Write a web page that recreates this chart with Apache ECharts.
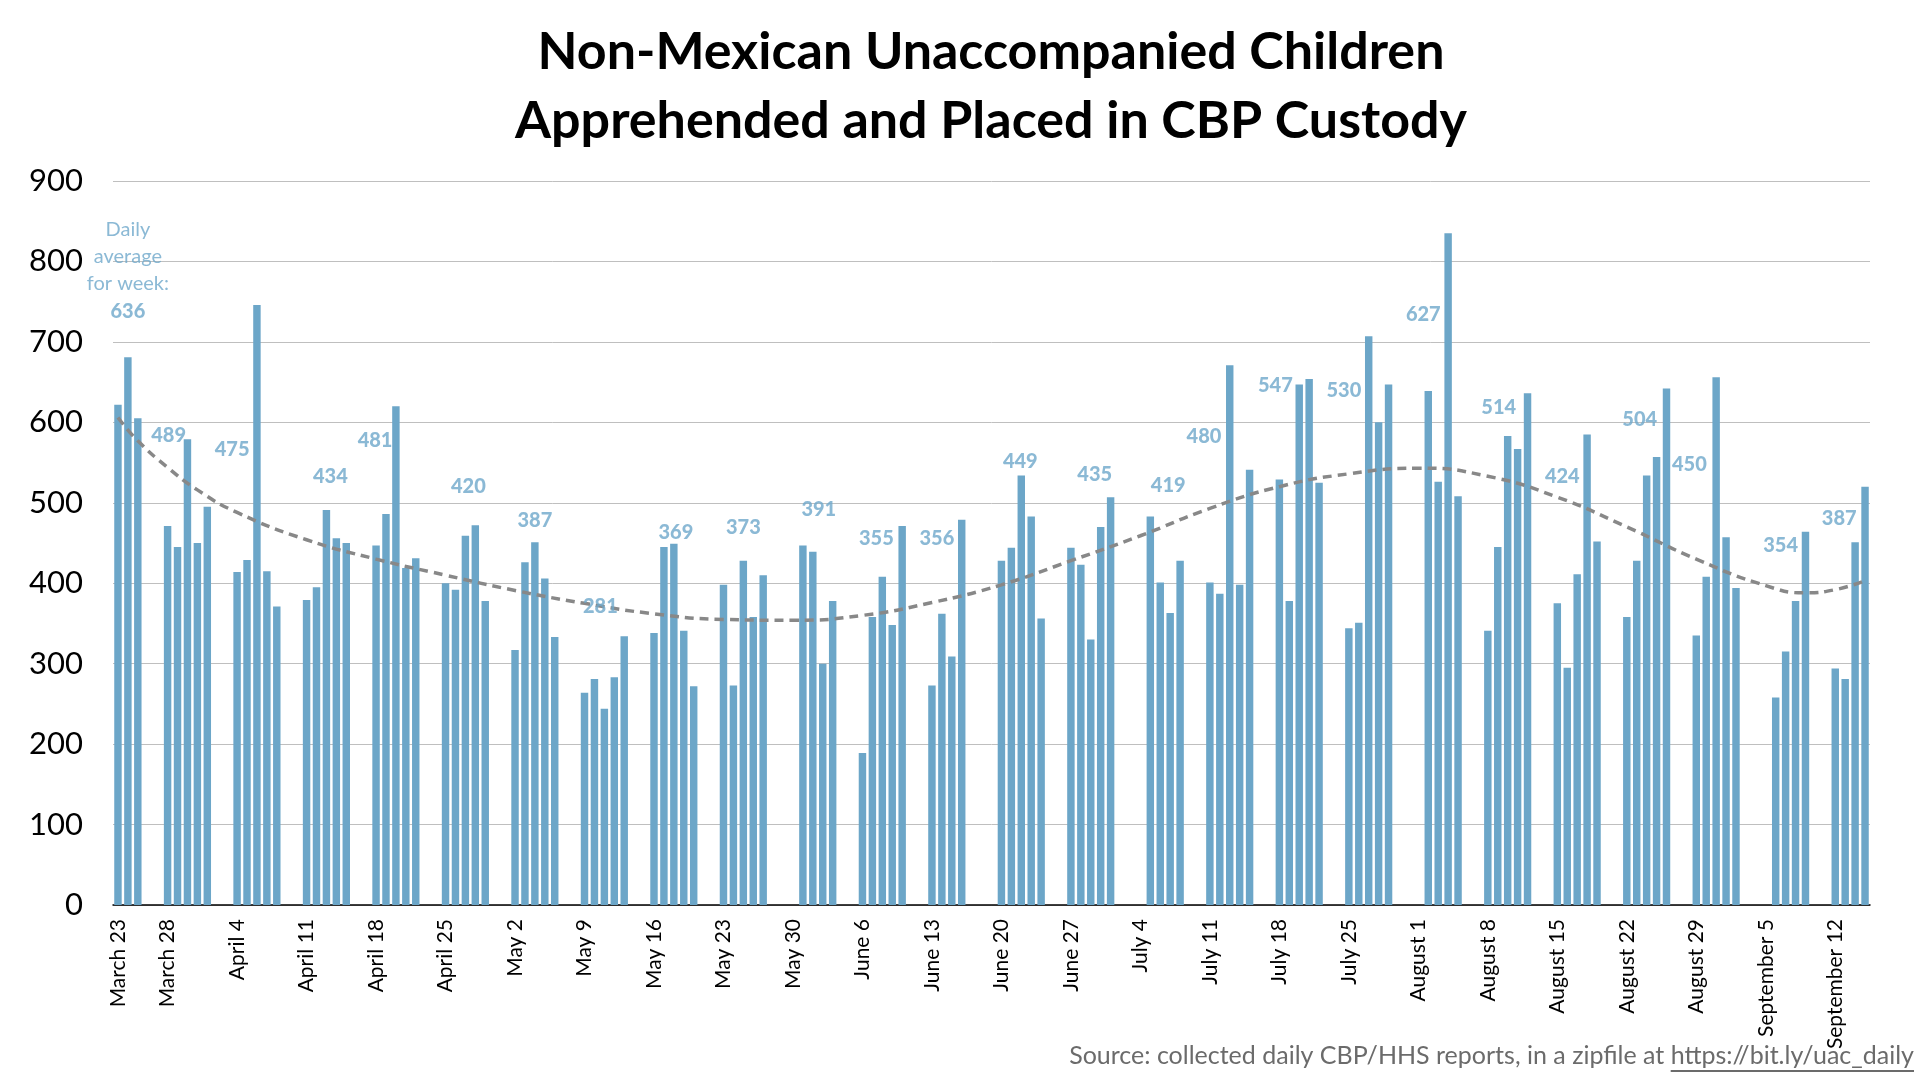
<!DOCTYPE html>
<html><head><meta charset="utf-8">
<script src="https://cdn.jsdelivr.net/npm/echarts@6/dist/echarts.min.js"></script>
<style>html,body{margin:0;padding:0;background:#fff}#c{width:1920px;height:1080px}</style>
</head><body><div id="c"></div>
<script>
// ---- Data ----
const monthNames = ['January','February','March','April','May','June','July','August','September','October','November','December'];
// one category per calendar day, 2021-03-23 .. 2021-09-15
const categories = [];
for (let i = 0; i < 177; i++) {
  const d = new Date(Date.UTC(2021, 2, 23 + i));
  categories.push(monthNames[d.getUTCMonth()] + ' ' + d.getUTCDate());
}
const tickLabels = ['March 23','March 28','April 4','April 11','April 18','April 25','May 2','May 9','May 16','May 23','May 30','June 6','June 13','June 20','June 27','July 4','July 11','July 18','July 25','August 1','August 8','August 15','August 22','August 29','September 5','September 12'];
const dailyCounts = [
  622,681,605,null,null,
  471,445,579,450,495,null,null,
  414,429,746,415,371,null,null,
  379,395,491,456,450,null,null,
  447,486,620,419,431,null,null,
  400,392,459,472,378,null,null,
  317,426,451,406,333,null,null,
  264,281,244,283,334,null,null,
  338,445,449,341,272,null,null,
  398,273,428,358,410,null,null,
  null,447,439,300,378,null,null,
  189,358,408,348,471,null,null,
  273,362,309,479,null,null,null,
  428,444,534,483,356,null,null,
  444,423,330,470,507,null,null,
  null,483,401,363,428,null,null,
  401,387,671,398,541,null,null,
  529,378,647,654,525,null,null,
  344,351,707,600,647,null,null,
  null,639,526,835,508,null,null,
  341,445,583,567,636,null,null,
  375,295,411,585,452,null,null,
  358,428,534,557,642,null,null,
  335,408,656,457,394,null,null,
  null,258,315,378,464,null,null,
  294,281,451,520
];
const weekAverages = [636,489,475,434,481,420,387,281,369,373,391,355,356,449,435,419,480,547,530,627,514,424,504,450,354,387];
// dashed trend line: [day index, value]
const trendPoints = [[0,606],[2,577],[5,544],[8,516],[12,488],[19,454],[26,430],[33,410],[40,391],[47,375],[54,362],[61,355],[68,354],[75,360],[82,376],[89,398],[96,428],[103,459],[110,493],[117,520],[124,536],[131,543],[138,533],[145,507],[152,470],[159,430],[166,397],[170,388],[173,392],[176,403]];
// where each weekly-average label sits: [day index, value level]
const labelAnchors = [[1.0,738],[5.1,583],[11.5,566],[21.4,533],[25.9,577],[35.3,520],[42.0,478],[48.6,371],[56.2,463],[63.0,469],[70.6,491],[76.4,455],[82.5,456],[90.9,551],[98.4,535],[105.8,522],[109.4,582],[116.6,646],[123.5,639],[131.5,734],[139.1,619],[145.5,532],[153.3,604],[158.3,548],[167.5,447],[173.4,481]];
const noteAnchor = [1.0, 806];

// ---- Styles ----
const BAR = '#6ca6c8';
const LBL = '#6ea7cb';
const FONT = 'Lato';

const chart = echarts.init(document.getElementById('c'), null, {renderer: 'canvas'});

const ctx = document.createElement('canvas').getContext('2d');
const srcFont = '25px Lato';
ctx.font = srcFont;
const srcMain = 'Source: collected daily CBP/HHS reports, in a zipfile at ';
const srcLink = 'https://bit.ly/uac_daily';
const wMain = ctx.measureText(srcMain).width;
const wLink = ctx.measureText(srcLink).width;
const srcX = 1914 - wMain - wLink;
const srcY = 1043;

chart.setOption({
  animation: false,
  backgroundColor: '#fff',
  title: {
    text: 'Non-Mexican Unaccompanied Children\nApprehended and Placed in CBP Custody',
    left: 991, top: 18, textAlign: 'center', padding: 0,
    textStyle: {fontFamily: FONT, fontWeight: 'bold', fontSize: 52, lineHeight: 69, color: '#000'}
  },
  grid: {left: 113, right: 50, top: 181, bottom: 175, containLabel: false},
  xAxis: [{
    type: 'category', data: categories,
    axisLine: {show: true, lineStyle: {color: '#000', width: 1.5}},
    axisTick: {show: false},
    axisLabel: {
      interval: (i, v) => tickLabels.includes(v),
      rotate: 90, margin: 14, fontSize: 21, fontFamily: FONT, color: '#000'
    },
    splitLine: {show: false}
  }, {
    type: 'value', min: -0.5, max: 176.5, show: false
  }],
  yAxis: {
    type: 'value', min: 0, max: 900, interval: 100,
    axisLine: {show: false}, axisTick: {show: false},
    axisLabel: {fontSize: 31, fontFamily: FONT, color: '#000', margin: 30},
    splitLine: {lineStyle: {color: '#bfbfbf', width: 1}}
  },
  series: [{
    type: 'bar', data: dailyCounts, xAxisIndex: 0, barWidth: '75%',
    itemStyle: {color: BAR}, z: 2
  }, {
    type: 'line', xAxisIndex: 1, data: trendPoints, smooth: 0.5, symbol: 'none',
    lineStyle: {color: '#888888', width: 3.5, type: [9, 6]}, z: 3
  }, {
    type: 'scatter', xAxisIndex: 1, symbolSize: 0, z: 4,
    data: labelAnchors.map((p, i) => ({value: p, name: String(weekAverages[i])})),
    label: {show: true, position: 'inside', formatter: p => p.name,
      fontFamily: FONT, fontWeight: 900, fontSize: 20, color: LBL}
  }, {
    type: 'scatter', xAxisIndex: 1, symbolSize: 0, z: 4,
    data: [{value: noteAnchor, name: 'Daily\naverage\nfor week:'}],
    label: {show: true, position: 'inside', formatter: p => p.name,
      fontFamily: FONT, fontSize: 20, lineHeight: 27, color: LBL}
  }],
  graphic: [{
    type: 'group', x: srcX, y: srcY, children: [
      {type: 'text', x: 0, y: 0, style: {text: srcMain, font: srcFont, fill: '#6b6b6b'}},
      {type: 'text', x: wMain, y: 0, style: {text: srcLink, font: srcFont, fill: '#6b6b6b'}},
      {type: 'rect', shape: {x: wMain, y: 27, width: wLink, height: 2}, style: {fill: '#6b6b6b'}}
    ]
  }]
});
</script></body></html>
